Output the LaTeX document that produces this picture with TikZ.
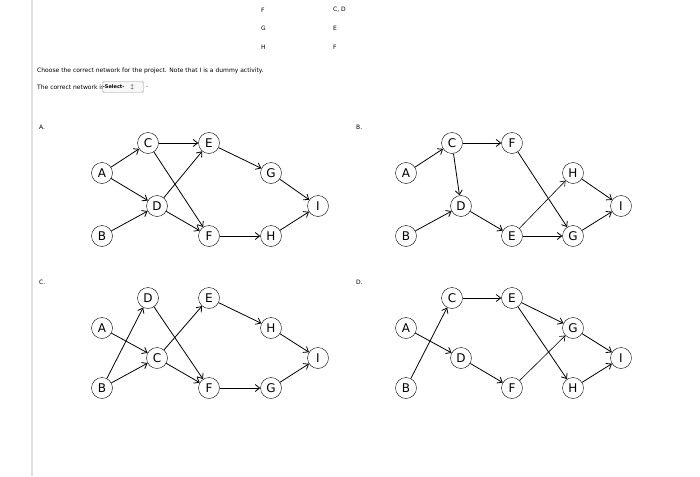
\documentclass[tikz,border=0pt]{standalone}
\usepackage{fontspec}
\setmainfont{DejaVu Sans}
\usetikzlibrary{arrows.meta}
\tikzset{
  act/.style={circle, draw, thin, minimum size=21pt, inner sep=0pt, font=\fontsize{12}{12}\selectfont},
  arc/.style={-{Straight Barb[length=4.5pt,width=7pt]}, thick},
  thinarc/.style={-{Straight Barb[length=4.5pt,width=7pt]}, semithick},
  txt/.style={font=\fontsize{6}{7}\selectfont, inner sep=0pt, anchor=west}
}
\begin{document}
\begin{tikzpicture}[x=1pt,y=-1pt]
\useasboundingbox (0,0) rectangle (700,476);
\draw[black!12, line width=1.5pt] (32,0) -- (32,476);

% table rows
\node[txt] (t1) at (261,10) {F};
\node[txt] (t2) at (261,28) {G};
\node[txt] (t3) at (261,47) {H};
\node[txt] (p1) at (333,10) {C, D};
\node[txt] (p2) at (333,28) {E};
\node[txt] (p3) at (333,47) {F};

% question
\node[txt] (q) at (37,71) {Choose the correct network for the project. Note that I is a dummy activity.};
\node[txt] (ans) at (37,87) {The correct network is};
\node[draw=black!40, rounded corners=1.5pt, fill=black!3, minimum width=41pt, minimum height=11pt,
  inner sep=0pt, font=\fontsize{5}{6}\selectfont\bfseries] (sel) at (123,87)
  {\hspace*{-9pt}-Select-\hspace*{6pt}\raisebox{0.3pt}{\fontsize{4}{4}\selectfont$\updownarrow$}};
\node[txt] (dot) at (146,87) {.};

% option labels
\node[txt] (lA) at (39,127) {A.};
\node[txt] (lB) at (356,127) {B.};
\node[txt] (lC) at (39,282) {C.};
\node[txt] (lD) at (356,282) {D.};

% A
\foreach \n/\x/\y in {A/102/173,B/102/236,C/148/143,D/157/206,E/209/143,F/209/236,G/271/173,H/271/236,I/318/206}
  \node[act] (a\n) at (\x,\y) {\n};
\foreach \s/\t in {A/C,A/D,B/D,C/E,C/F,D/E,D/F,E/G,F/H,G/I,H/I}
  \draw[arc] (a\s) -- (a\t);

% B
\foreach \n/\x/\y in {A/406/173,B/406/236,C/452/143,D/461/206,F/512/143,E/512/236,H/573/173,G/573/236,I/621/206}
  \node[act] (b\n) at (\x,\y) {\n};
\foreach \s/\t in {A/C,C/F,C/D,B/D,D/E,F/G,E/G,H/I,G/I}
  \draw[arc] (b\s) -- (b\t);
\draw[thinarc] (bE) -- (bH);

% C
\foreach \n/\x/\y in {A/102/328,B/102/388,D/148/298,C/157/358,E/209/298,F/209/388,H/271/328,G/271/388,I/318/358}
  \node[act] (c\n) at (\x,\y) {\n};
\foreach \s/\t in {A/C,B/D,B/C,D/F,C/E,C/F,E/H,F/G,H/I,G/I}
  \draw[arc] (c\s) -- (c\t);

% D
\foreach \n/\x/\y in {A/406/328,B/406/388,C/452/298,D/461/358,E/512/298,F/512/388,G/573/328,H/573/388,I/621/358}
  \node[act] (d\n) at (\x,\y) {\n};
\foreach \s/\t in {B/C,A/D,C/E,E/G,E/H,D/F,G/I,H/I}
  \draw[arc] (d\s) -- (d\t);
\draw[thinarc] (dF) -- (dG);
\end{tikzpicture}
\end{document}
